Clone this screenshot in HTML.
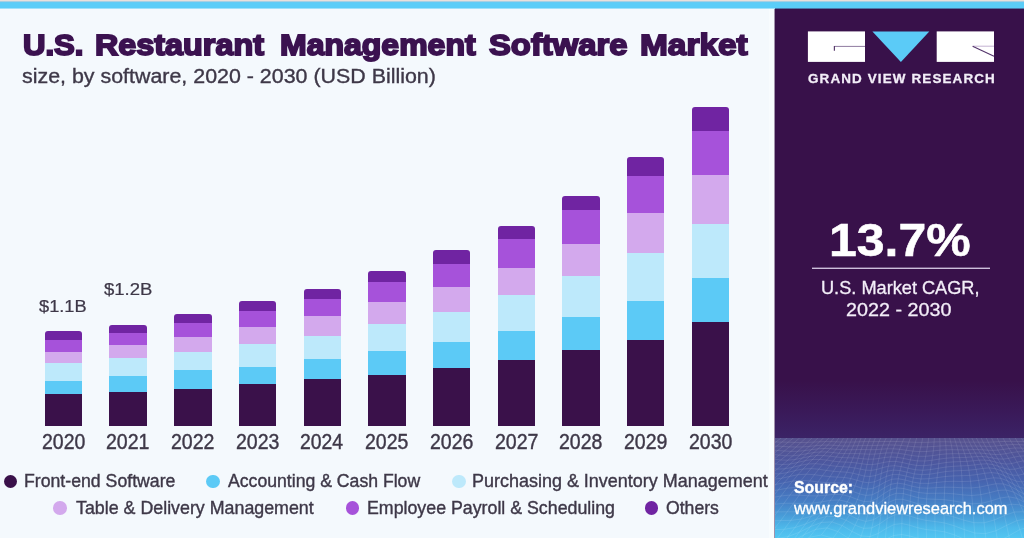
<!DOCTYPE html>
<html lang="en">
<head>
<meta charset="utf-8">
<title>U.S. Restaurant Management Software Market</title>
<style>
html,body{margin:0;padding:0}
body{width:1024px;height:538px;overflow:hidden;background:#f4f9fd;font-family:"Liberation Sans",sans-serif}
#page{position:relative;width:1024px;height:538px;overflow:hidden;background:#f4f9fd}
#topbar{position:absolute;left:0;top:0;width:1024px;height:9px;background:linear-gradient(180deg,#e8e0dc 0,#e8e0dc 1px,#a6cfe3 1px,#a6cfe3 2px,#62cbf4 2px,#62cbf4 3px,#5bcdf8 3px,#5bcdf8 8px,rgba(91,205,248,.55) 8px,rgba(91,205,248,.55) 9px);z-index:5}
#gap{position:absolute;left:768.5px;top:8px;width:7px;height:530px;background:#f8fcfe}
#panel{position:absolute;left:774.7px;top:8px;width:249.3px;height:530px;background:linear-gradient(180deg,#38114a 0,#38114a 372.5px,#3a1a5a 405.5px,#3b2366 430.3px,#57528e 430.4px,#4d569d 452.5px,#4763ae 472.5px,#467dc4 492.5px,#489cd8 507.5px,#4db8ea 519.5px,#52c6f2 530px)}
.t{position:absolute;white-space:nowrap;line-height:1;transform-origin:0 0;display:block}
.bar{position:absolute;width:37.4px;border-radius:3px 3px 0 0;overflow:hidden}
.bar i{position:absolute;left:0;width:100%;display:block}
.others{background:#7024a2}.emp{background:#a652da}.table{background:#d3a9ed}
.purch{background:#bde9fb}.acct{background:#5ccaf6}.front{background:#3a114a}
.dot{position:absolute;width:13.7px;height:13.7px;border-radius:50%;display:block}
#pedge{position:absolute;left:774px;top:9px;width:1px;height:529px;background:rgba(56,17,74,.45)}
#rule{position:absolute;left:812px;top:267px;width:178px;height:2px;background:linear-gradient(180deg,rgba(205,191,220,.4) 0,rgba(205,191,220,.4) 1px,#cdbfdc 1px,#cdbfdc 2px)}
#logo{position:absolute;left:800px;top:25px;width:200px;height:45px}
#mesh{position:absolute;left:774.7px;top:438.3px;width:249.3px;height:99.7px}
#tw1{left:22.74px;top:28.00px;font-size:30.09px;transform:scaleX(1.0338);color:#3b1250;font-weight:700;line-height:33px;-webkit-text-stroke:1.935px #3b1250;}
#tw2{left:94.98px;top:28.00px;font-size:30.09px;transform:scaleX(1.0751);color:#3b1250;font-weight:700;line-height:33px;-webkit-text-stroke:1.860px #3b1250;}
#tw3{left:279.50px;top:28.00px;font-size:30.09px;transform:scaleX(1.0638);color:#3b1250;font-weight:700;line-height:33px;-webkit-text-stroke:1.880px #3b1250;}
#tw4{left:489.29px;top:28.00px;font-size:30.09px;transform:scaleX(1.0901);color:#3b1250;font-weight:700;line-height:33px;-webkit-text-stroke:1.835px #3b1250;}
#tw5{left:639.91px;top:28.00px;font-size:30.09px;transform:scaleX(1.1109);color:#3b1250;font-weight:700;line-height:33px;-webkit-text-stroke:1.800px #3b1250;}
#sub{left:22.45px;top:65.00px;font-size:19.94px;transform:scaleX(1.0732);color:#3e3848;line-height:22px;-webkit-text-stroke:0.354px #3e3848;}
#v1{left:38.82px;top:296.00px;font-size:17.37px;transform:scaleX(1.0506);color:#3e3848;line-height:20px;-webkit-text-stroke:0.238px #3e3848;}
#v2{left:104.02px;top:279.00px;font-size:17.22px;transform:scaleX(1.0758);color:#3e3848;line-height:20px;-webkit-text-stroke:0.232px #3e3848;}
#lg1{left:24.16px;top:470.00px;font-size:18.63px;transform:scaleX(0.9505);color:#3e3848;line-height:21px;-webkit-text-stroke:0.400px #3e3848;}
#lg2{left:227.99px;top:470.00px;font-size:18.63px;transform:scaleX(0.9479);color:#3e3848;line-height:21px;-webkit-text-stroke:0.401px #3e3848;}
#lg3{left:472.24px;top:470.00px;font-size:18.63px;transform:scaleX(0.9655);color:#3e3848;line-height:21px;-webkit-text-stroke:0.394px #3e3848;}
#lg4{left:76.01px;top:497.00px;font-size:18.78px;transform:scaleX(0.9497);color:#3e3848;line-height:21px;-webkit-text-stroke:0.400px #3e3848;}
#lg5{left:366.77px;top:497.00px;font-size:18.78px;transform:scaleX(0.9470);color:#3e3848;line-height:21px;-webkit-text-stroke:0.401px #3e3848;}
#lg6{left:666.24px;top:497.00px;font-size:18.78px;transform:scaleX(0.9391);color:#3e3848;line-height:21px;-webkit-text-stroke:0.405px #3e3848;}
#gvr{left:807.70px;top:72.00px;font-size:11.92px;transform:scaleX(1.1285);color:#f3eef8;font-weight:700;letter-spacing:1.0px;line-height:14px;-webkit-text-stroke:0.266px #f3eef8;}
#cagr{left:828.78px;top:214.00px;font-size:46.08px;transform:scaleX(1.0848);color:#ffffff;font-weight:700;line-height:52px;-webkit-text-stroke:0.553px #ffffff;}
#c1{left:821.35px;top:278.00px;font-size:18.17px;transform:scaleX(1.0010);color:#f3eef8;line-height:20px;-webkit-text-stroke:0.300px #f3eef8;}
#c2{left:846.00px;top:299.00px;font-size:18.75px;transform:scaleX(1.0532);color:#f3eef8;line-height:21px;-webkit-text-stroke:0.285px #f3eef8;}
#src{left:793.82px;top:478.00px;font-size:16.72px;transform:scaleX(0.9506);color:#ffffff;font-weight:700;line-height:19px;-webkit-text-stroke:0.421px #ffffff;}
#url{left:794.26px;top:500.00px;font-size:15.62px;transform:scaleX(1.0514);color:#ffffff;line-height:17px;-webkit-text-stroke:0.285px #ffffff;}
#y2020{left:41.72px;top:430.00px;font-size:21.25px;transform:scaleX(0.9156);color:#3e3848;line-height:24px;-webkit-text-stroke:0.415px #3e3848;}
#y2021{left:106.41px;top:430.00px;font-size:21.25px;transform:scaleX(0.9197);color:#3e3848;line-height:24px;-webkit-text-stroke:0.413px #3e3848;}
#y2022{left:171.10px;top:430.00px;font-size:21.25px;transform:scaleX(0.9197);color:#3e3848;line-height:24px;-webkit-text-stroke:0.413px #3e3848;}
#y2023{left:235.79px;top:430.00px;font-size:21.25px;transform:scaleX(0.9177);color:#3e3848;line-height:24px;-webkit-text-stroke:0.414px #3e3848;}
#y2024{left:300.49px;top:430.00px;font-size:21.25px;transform:scaleX(0.9116);color:#3e3848;line-height:24px;-webkit-text-stroke:0.417px #3e3848;}
#y2025{left:365.17px;top:430.00px;font-size:21.25px;transform:scaleX(0.9156);color:#3e3848;line-height:24px;-webkit-text-stroke:0.415px #3e3848;}
#y2026{left:429.86px;top:430.00px;font-size:21.25px;transform:scaleX(0.9177);color:#3e3848;line-height:24px;-webkit-text-stroke:0.414px #3e3848;}
#y2027{left:494.55px;top:430.00px;font-size:21.25px;transform:scaleX(0.9197);color:#3e3848;line-height:24px;-webkit-text-stroke:0.413px #3e3848;}
#y2028{left:559.24px;top:430.00px;font-size:21.25px;transform:scaleX(0.9177);color:#3e3848;line-height:24px;-webkit-text-stroke:0.414px #3e3848;}
#y2029{left:623.93px;top:430.00px;font-size:21.25px;transform:scaleX(0.9177);color:#3e3848;line-height:24px;-webkit-text-stroke:0.414px #3e3848;}
#y2030{left:688.62px;top:430.00px;font-size:21.25px;transform:scaleX(0.9156);color:#3e3848;line-height:24px;-webkit-text-stroke:0.415px #3e3848;}
</style>
</head>
<body>
<div id="page">
<div id="topbar"></div>
<h1 style="margin:0;font-weight:inherit;font-size:inherit"><span class="t" id="tw1">U.S.</span> <span class="t" id="tw2">Restaurant</span> <span class="t" id="tw3">Management</span> <span class="t" id="tw4">Software</span> <span class="t" id="tw5">Market</span></h1>
<span class="t" id="sub">size, by software, 2020 - 2030 (USD Billion)</span>
<div id="chart">
<div class="bar" style="left:44.75px;top:331.3px;height:94.5px"><i class="others" style="top:0.0px;height:8.8px"></i><i class="emp" style="top:8.8px;height:11.7px"></i><i class="table" style="top:20.5px;height:10.8px"></i><i class="purch" style="top:31.3px;height:18.4px"></i><i class="acct" style="top:49.7px;height:12.6px"></i><i class="front" style="top:62.3px;height:32.2px"></i></div>
<div class="bar" style="left:109.44px;top:324.9px;height:100.9px"><i class="others" style="top:0.0px;height:8.4px"></i><i class="emp" style="top:8.4px;height:12.1px"></i><i class="table" style="top:20.5px;height:12.6px"></i><i class="purch" style="top:33.1px;height:18.3px"></i><i class="acct" style="top:51.4px;height:15.6px"></i><i class="front" style="top:67.0px;height:33.9px"></i></div>
<div class="bar" style="left:174.13px;top:313.9px;height:111.9px"><i class="others" style="top:0.0px;height:9.6px"></i><i class="emp" style="top:9.6px;height:13.7px"></i><i class="table" style="top:23.3px;height:14.6px"></i><i class="purch" style="top:37.9px;height:18.6px"></i><i class="acct" style="top:56.5px;height:18.6px"></i><i class="front" style="top:75.1px;height:36.8px"></i></div>
<div class="bar" style="left:238.82px;top:301.3px;height:124.5px"><i class="others" style="top:0.0px;height:10.2px"></i><i class="emp" style="top:10.2px;height:15.2px"></i><i class="table" style="top:25.4px;height:16.9px"></i><i class="purch" style="top:42.3px;height:23.2px"></i><i class="acct" style="top:65.5px;height:17.4px"></i><i class="front" style="top:82.9px;height:41.6px"></i></div>
<div class="bar" style="left:303.51px;top:288.8px;height:137.0px"><i class="others" style="top:0.0px;height:10.2px"></i><i class="emp" style="top:10.2px;height:16.8px"></i><i class="table" style="top:27.0px;height:19.8px"></i><i class="purch" style="top:46.8px;height:23.8px"></i><i class="acct" style="top:70.6px;height:20.0px"></i><i class="front" style="top:90.6px;height:46.4px"></i></div>
<div class="bar" style="left:368.20px;top:270.6px;height:155.2px"><i class="others" style="top:0.0px;height:11.5px"></i><i class="emp" style="top:11.5px;height:20.1px"></i><i class="table" style="top:31.6px;height:21.9px"></i><i class="purch" style="top:53.5px;height:27.3px"></i><i class="acct" style="top:80.8px;height:23.6px"></i><i class="front" style="top:104.4px;height:50.8px"></i></div>
<div class="bar" style="left:432.89px;top:250.3px;height:175.5px"><i class="others" style="top:0.0px;height:13.4px"></i><i class="emp" style="top:13.4px;height:23.3px"></i><i class="table" style="top:36.7px;height:24.7px"></i><i class="purch" style="top:61.4px;height:30.7px"></i><i class="acct" style="top:92.1px;height:25.7px"></i><i class="front" style="top:117.8px;height:57.7px"></i></div>
<div class="bar" style="left:497.58px;top:226.1px;height:199.7px"><i class="others" style="top:0.0px;height:13.0px"></i><i class="emp" style="top:13.0px;height:29.1px"></i><i class="table" style="top:42.1px;height:27.1px"></i><i class="purch" style="top:69.2px;height:35.3px"></i><i class="acct" style="top:104.5px;height:29.9px"></i><i class="front" style="top:134.4px;height:65.3px"></i></div>
<div class="bar" style="left:562.27px;top:195.8px;height:230.0px"><i class="others" style="top:0.0px;height:14.3px"></i><i class="emp" style="top:14.3px;height:33.7px"></i><i class="table" style="top:48.0px;height:32.2px"></i><i class="purch" style="top:80.2px;height:41.1px"></i><i class="acct" style="top:121.3px;height:33.3px"></i><i class="front" style="top:154.6px;height:75.4px"></i></div>
<div class="bar" style="left:626.96px;top:157.0px;height:268.8px"><i class="others" style="top:0.0px;height:19.0px"></i><i class="emp" style="top:19.0px;height:37.3px"></i><i class="table" style="top:56.3px;height:40.0px"></i><i class="purch" style="top:96.3px;height:47.7px"></i><i class="acct" style="top:144.0px;height:38.8px"></i><i class="front" style="top:182.8px;height:86.0px"></i></div>
<div class="bar" style="left:691.65px;top:107.4px;height:318.4px"><i class="others" style="top:0.0px;height:24.0px"></i><i class="emp" style="top:24.0px;height:44.0px"></i><i class="table" style="top:68.0px;height:48.4px"></i><i class="purch" style="top:116.4px;height:53.8px"></i><i class="acct" style="top:170.2px;height:44.8px"></i><i class="front" style="top:215.0px;height:103.4px"></i></div>
<span class="t" id="v1">$1.1B</span> <span class="t" id="v2">$1.2B</span>
<span class="t" id="y2020">2020</span> <span class="t" id="y2021">2021</span> <span class="t" id="y2022">2022</span> <span class="t" id="y2023">2023</span> <span class="t" id="y2024">2024</span> <span class="t" id="y2025">2025</span> <span class="t" id="y2026">2026</span> <span class="t" id="y2027">2027</span> <span class="t" id="y2028">2028</span> <span class="t" id="y2029">2029</span> <span class="t" id="y2030">2030</span>
</div>
<div id="legend"><b class="dot front" style="left:3.60px;top:474.75px"></b><b class="dot acct" style="left:205.95px;top:474.75px"></b><b class="dot purch" style="left:452.05px;top:474.75px"></b><b class="dot table" style="left:53.15px;top:501.05px"></b><b class="dot emp" style="left:345.65px;top:501.05px"></b><b class="dot others" style="left:644.55px;top:501.05px"></b>
<span class="t" id="lg1">Front-end Software</span> <span class="t" id="lg2">Accounting &amp; Cash Flow</span> <span class="t" id="lg3">Purchasing &amp; Inventory Management</span> <span class="t" id="lg4">Table &amp; Delivery Management</span> <span class="t" id="lg5">Employee Payroll &amp; Scheduling</span> <span class="t" id="lg6">Others</span>
</div>
<div id="gap"></div>
<div id="panel"></div><div id="pedge"></div>
<svg id="mesh" viewBox="774.7 438.3 249.3 99.7" preserveAspectRatio="none"><path d="M769.7 442.2L775.5 442.3L781.5 442.4L787.8 442.5L794.2 442.7L800.6 442.8L807.0 442.7L813.3 442.4L819.3 442.1L825.1 441.9L830.7 441.9L835.9 442.1L840.9 442.3L845.6 442.4L850.2 442.4L854.7 442.3L859.2 442.1L863.7 442.0L868.5 442.0L873.4 442.0L878.7 441.9L884.2 441.8L890.0 441.7L896.1 441.8L902.3 442.0L908.7 442.4L915.1 442.6L921.5 442.7L927.8 442.6L933.8 442.3L939.6 442.1L945.2 442.1L950.4 442.2L955.3 442.3L960.1 442.4L964.6 442.4L969.1 442.4L973.6 442.4L978.2 442.4L982.9 442.5L987.9 442.5L993.2 442.3L998.7 442.0L1004.5 441.7L1010.6 441.6L1016.9 441.7L1023.3 441.9L1029.7 442.2M770.2 446.3L776.3 446.4L782.6 446.7L789.1 447.1L795.7 447.3L802.3 447.2L808.9 446.7L815.3 446.0L821.5 445.5L827.4 445.4L833.1 445.6L838.4 446.0L843.5 446.3L848.3 446.3L853.0 446.2L857.6 446.0L862.3 445.9L867.0 445.9L872.0 445.9L877.1 445.7L882.6 445.5L888.4 445.3L894.5 445.4L900.8 445.8L907.3 446.4L913.9 447.0L920.5 447.3L927.1 447.1L933.5 446.7L939.7 446.3L945.6 446.0L951.2 446.1L956.5 446.2L961.6 446.4L966.4 446.4L971.1 446.3L975.7 446.3L980.4 446.4L985.1 446.5L990.1 446.6L995.3 446.3L1000.8 445.8L1006.6 445.2L1012.6 444.9L1019.0 445.0L1025.5 445.4M771.1 450.4L777.4 450.8L784.0 451.3L790.7 451.7L797.5 451.6L804.4 450.9L811.1 450.0L817.7 449.1L824.0 448.8L830.0 449.0L835.8 449.5L841.2 449.9L846.3 450.1L851.3 450.0L856.1 449.9L860.8 449.8L865.7 449.9L870.6 450.0L875.8 449.9L881.2 449.5L886.9 449.1L893.0 449.1L899.3 449.6L905.9 450.5L912.6 451.4L919.4 451.9L926.3 451.8L933.0 451.2L939.6 450.5L945.9 450.1L951.9 450.0L957.6 450.1L963.0 450.2L968.1 450.1L973.1 449.9L977.9 449.9L982.6 450.1L987.5 450.5L992.4 450.7L997.6 450.4L1003.0 449.7L1008.8 448.9L1014.8 448.3L1021.2 448.4L1027.8 449.0M772.2 454.7L778.8 455.4L785.6 456.1L792.6 456.1L799.7 455.3L806.7 454.0L813.6 452.8L820.3 452.2L826.7 452.3L832.9 452.9L838.7 453.6L844.2 453.9L849.4 453.9L854.5 453.9L859.4 454.0L864.3 454.3L869.3 454.5L874.5 454.4L879.9 453.9L885.6 453.3L891.6 453.1L897.9 453.5L904.5 454.6L911.3 455.8L918.3 456.6L925.4 456.6L932.4 455.9L939.3 454.9L946.0 454.2L952.4 454.0L958.5 454.0L964.3 453.9L969.8 453.7L975.0 453.4L980.1 453.4L985.0 453.8L989.9 454.4L994.9 454.8L1000.1 454.7L1005.5 454.0L1011.2 452.9L1017.2 452.1L1023.6 452.0L1030.2 452.7M767.0 458.4L773.6 459.4L780.4 460.3L787.5 460.5L794.8 459.8L802.1 458.3L809.3 456.8L816.3 455.8L823.2 455.9L829.7 456.5L835.9 457.3L841.8 457.9L847.4 458.1L852.7 458.2L857.9 458.5L863.0 459.1L868.0 459.5L873.2 459.4L878.6 458.8L884.3 457.8L890.3 457.3L896.6 457.6L903.2 458.7L910.1 460.2L917.2 461.2L924.5 461.3L931.7 460.6L938.9 459.4L946.0 458.5L952.8 458.0L959.3 457.9L965.5 457.7L971.4 457.3L977.0 456.9L982.3 456.9L987.4 457.4L992.5 458.3L997.6 459.2L1002.8 459.4L1008.2 458.7L1013.9 457.4L1019.9 456.4L1026.2 456.1M768.2 463.1L775.1 464.3L782.3 464.9L789.7 464.4L797.2 462.8L804.7 461.0L812.1 459.8L819.3 459.7L826.3 460.4L832.9 461.4L839.2 462.1L845.2 462.4L850.9 462.7L856.3 463.3L861.6 464.1L866.8 464.8L872.1 464.9L877.5 464.1L883.1 462.8L889.1 461.8L895.4 461.7L902.0 462.8L908.9 464.4L916.1 465.7L923.5 466.0L931.0 465.2L938.5 464.0L945.9 462.8L953.1 462.2L960.0 461.9L966.6 461.6L972.9 461.1L978.9 460.5L984.5 460.4L989.9 461.0L995.2 462.4L1000.4 463.7L1005.7 464.4L1011.2 463.9L1016.8 462.5L1022.8 461.2L1029.1 460.6M769.7 468.3L777.0 469.4L784.5 469.1L792.1 467.7L799.9 465.7L807.6 464.3L815.2 464.0L822.5 464.7L829.6 465.8L836.3 466.6L842.7 467.1L848.8 467.5L854.5 468.3L860.1 469.4L865.5 470.5L870.9 470.7L876.4 469.8L882.0 468.1L888.0 466.5L894.2 466.0L900.8 466.9L907.8 468.5L915.0 470.1L922.5 470.6L930.2 469.9L938.0 468.6L945.7 467.3L953.3 466.6L960.6 466.2L967.7 465.9L974.4 465.2L980.7 464.4L986.8 464.1L992.5 464.9L998.0 466.6L1003.5 468.5L1008.9 469.7L1014.4 469.5L1020.0 468.2L1026.0 466.5M771.4 473.9L779.0 474.2L786.8 472.9L794.8 470.9L802.8 469.3L810.7 468.9L818.5 469.5L826.0 470.7L833.2 471.6L840.0 472.1L846.5 472.5L852.6 473.5L858.5 475.0L864.1 476.4L869.7 476.8L875.3 475.8L881.0 473.7L887.0 471.5L893.2 470.4L899.8 470.9L906.7 472.5L914.0 474.2L921.6 475.0L929.4 474.5L937.4 473.2L945.4 471.9L953.4 471.2L961.1 470.9L968.6 470.5L975.8 469.7L982.6 468.7L989.0 468.2L995.1 469.0L1001.0 471.1L1006.6 473.6L1012.2 475.4L1017.8 475.6L1023.5 474.3L1029.5 472.5M773.4 479.5L781.3 478.6L789.4 476.7L797.7 475.0L806.0 474.5L814.1 475.0L822.0 476.1L829.7 477.0L837.0 477.4L843.9 477.8L850.4 478.8L856.7 480.6L862.6 482.3L868.4 483.1L874.2 482.1L880.0 479.6L886.0 476.7L892.2 474.9L898.8 474.9L905.8 476.4L913.1 478.3L920.7 479.3L928.7 479.0L936.8 477.9L945.1 476.8L953.4 476.2L961.5 476.0L969.4 475.7L977.0 474.8L984.3 473.6L991.2 472.9L997.7 473.6L1003.9 475.9L1009.9 479.0L1015.7 481.4L1021.5 482.2L1027.3 481.0M767.5 485.2L775.5 484.8L783.8 483.1L792.3 481.4L800.9 480.7L809.4 481.2L817.7 482.2L825.8 482.9L833.6 483.1L841.0 483.3L848.0 484.3L854.7 486.2L861.0 488.3L867.1 489.4L873.1 488.5L879.0 485.7L885.1 482.2L891.4 479.6L898.0 479.1L904.9 480.3L912.2 482.3L919.9 483.6L928.0 483.7L936.3 482.8L944.8 481.9L953.3 481.6L961.8 481.8L970.2 481.6L978.3 480.7L986.0 479.2L993.4 478.1L1000.4 478.6L1007.0 481.1L1013.3 484.6L1019.4 487.7L1025.4 489.0L1031.4 488.0M769.5 491.6L778.0 490.2L786.6 488.5L795.5 487.7L804.3 488.1L813.1 488.9L821.6 489.3L829.9 489.1L837.8 489.0L845.3 489.7L852.4 491.7L859.2 494.2L865.6 495.7L871.9 495.1L878.0 492.1L884.2 488.0L890.6 484.6L897.2 483.4L904.1 484.4L911.5 486.5L919.2 488.1L927.3 488.5L935.8 488.0L944.4 487.5L953.3 487.6L962.1 488.1L970.9 488.3L979.4 487.4L987.7 485.6L995.6 484.1L1003.0 484.2L1010.1 486.6L1016.9 490.5L1023.3 494.2L1029.5 496.0M771.8 497.9L780.7 496.3L789.7 495.4L798.9 495.5L808.0 496.1L817.1 496.2L825.8 495.5L834.2 494.7L842.3 495.0L849.9 497.0L857.1 499.8L864.0 501.9L870.6 501.6L877.0 498.6L883.4 494.1L889.9 490.1L896.5 488.2L903.5 488.9L910.8 490.9L918.6 492.8L926.8 493.7L935.3 493.6L944.2 493.5L953.2 494.1L962.4 495.2L971.5 495.8L980.5 495.0L989.3 493.0L997.7 490.8L1005.7 490.3L1013.3 492.4L1020.5 496.5L1027.3 500.7M774.4 504.6L783.7 503.6L793.1 503.6L802.6 503.9L812.1 503.5L821.3 502.2L830.3 500.6L838.9 500.3L847.0 502.1L854.8 505.2L862.1 507.9L869.1 508.2L875.9 505.5L882.5 500.7L889.1 496.0L895.9 493.6L903.0 493.9L910.3 495.9L918.1 498.1L926.3 499.3L934.9 499.6L943.9 500.0L953.2 501.2L962.7 502.9L972.2 504.1L981.6 503.6L990.9 501.2L999.8 498.4L1008.4 497.1L1016.5 498.6L1024.2 502.6L1031.5 507.2M767.8 513.3L777.2 512.2L787.0 512.1L796.8 512.1L806.7 511.2L816.4 509.1L825.9 506.7L835.1 505.6L843.8 507.0L852.1 510.4L860.0 513.8L867.5 514.9L874.6 512.6L881.6 507.8L888.4 502.7L895.4 499.7L902.5 499.6L909.9 501.7L917.7 504.1L926.0 505.6L934.7 506.3L943.8 507.1L953.3 508.9L963.0 511.4L972.8 513.2L982.7 513.0L992.5 510.3L1001.9 506.8L1011.1 504.5L1019.8 505.2L1028.1 508.9M770.5 521.2L780.4 520.9L790.6 520.7L800.8 519.4L811.1 516.5L821.1 513.0L830.9 511.0L840.2 511.9L849.1 515.4L857.6 519.6L865.6 521.7L873.2 520.1L880.5 515.5L887.7 510.3L894.9 506.8L902.1 506.4L909.7 508.4L917.5 510.9L925.8 512.7L934.6 513.7L943.8 514.8L953.4 517.2L963.4 520.4L973.6 523.0L983.8 523.1L994.0 520.3L1004.1 515.9L1013.8 512.4L1023.1 512.0M773.5 529.9L783.9 529.6L794.6 527.9L805.3 524.3L815.8 519.7L826.2 516.7L836.2 516.9L845.7 520.5L854.8 525.5L863.4 528.7L871.6 528.2L879.4 524.2L886.9 518.9L894.4 515.2L901.8 514.5L909.5 516.3L917.4 518.9L925.8 520.7L934.6 521.8L943.9 523.2L953.7 526.0L963.9 529.9L974.4 533.3L985.0 534.0L995.7 531.0L1006.3 525.7L1016.6 520.9L1026.6 519.2M776.8 538.8L787.8 536.9L798.9 532.6L810.1 527.0L821.0 522.8L831.6 522.2L841.9 525.9L851.6 531.7L860.9 536.2L869.7 536.9L878.0 533.7L886.0 528.7L893.8 524.8L901.6 523.9L909.4 525.5L917.5 528.1L926.0 529.9L934.9 530.8L944.3 532.2L954.2 535.2L964.5 539.8L975.3 544.0L986.3 545.3L997.4 542.3L1008.5 536.1L1019.5 529.9L1030.1 526.8M769.2 548.3L780.6 546.4L792.1 541.7L803.7 535.1L815.3 529.7L826.6 528.2L837.5 531.8L848.0 538.4L858.0 544.3L867.5 546.5L876.4 544.4L885.0 539.8L893.2 535.9L901.3 534.8L909.4 536.3L917.7 538.6L926.3 540.1L935.3 540.7L944.8 541.8L954.8 544.8L965.4 549.9L976.4 554.9L987.7 556.9L999.3 554.0L1010.9 547.2L1022.4 539.6M772.8 556.6L784.7 551.7L796.9 544.3L809.0 537.7L821.0 535.3L832.7 538.5L843.9 545.8L854.7 553.2L864.9 557.1L874.5 556.2L883.7 552.3L892.5 548.6L901.1 547.3L909.5 548.6L918.1 550.6L926.8 551.6L936.0 551.5L945.6 551.9L955.8 554.7L966.5 560.0L977.7 565.9L989.3 568.7L1001.3 566.2L1013.5 558.9L1025.6 549.9M775.6 437.9L769.7 442.2M781.4 437.9L775.5 442.3L770.2 446.3M787.4 437.9L781.5 442.4L776.3 446.4L771.1 450.4M793.5 437.9L787.8 442.5L782.6 446.7L777.4 450.8L772.2 454.7L767.0 458.4M799.7 437.9L794.2 442.7L789.1 447.1L784.0 451.3L778.8 455.4L773.6 459.4L768.2 463.1M805.9 437.9L800.6 442.8L795.7 447.3L790.7 451.7L785.6 456.1L780.4 460.3L775.1 464.3L769.7 468.3M812.0 437.9L807.0 442.7L802.3 447.2L797.5 451.6L792.6 456.1L787.5 460.5L782.3 464.9L777.0 469.4L771.4 473.9M817.9 437.9L813.3 442.4L808.9 446.7L804.4 450.9L799.7 455.3L794.8 459.8L789.7 464.4L784.5 469.1L779.0 474.2L773.4 479.5L767.5 485.2M823.5 437.9L819.3 442.1L815.3 446.0L811.1 450.0L806.7 454.0L802.1 458.3L797.2 462.8L792.1 467.7L786.8 472.9L781.3 478.6L775.5 484.8L769.5 491.6M828.9 437.9L825.1 441.9L821.5 445.5L817.7 449.1L813.6 452.8L809.3 456.8L804.7 461.0L799.9 465.7L794.8 470.9L789.4 476.7L783.8 483.1L778.0 490.2L771.8 497.9M834.0 437.9L830.7 441.9L827.4 445.4L824.0 448.8L820.3 452.2L816.3 455.8L812.1 459.8L807.6 464.3L802.8 469.3L797.7 475.0L792.3 481.4L786.6 488.5L780.7 496.3L774.4 504.6L767.8 513.3M838.8 437.9L835.9 442.1L833.1 445.6L830.0 449.0L826.7 452.3L823.2 455.9L819.3 459.7L815.2 464.0L810.7 468.9L806.0 474.5L800.9 480.7L795.5 487.7L789.7 495.4L783.7 503.6L777.2 512.2L770.5 521.2M843.4 437.9L840.9 442.3L838.4 446.0L835.8 449.5L832.9 452.9L829.7 456.5L826.3 460.4L822.5 464.7L818.5 469.5L814.1 475.0L809.4 481.2L804.3 488.1L798.9 495.5L793.1 503.6L787.0 512.1L780.4 520.9L773.5 529.9M847.8 437.9L845.6 442.4L843.5 446.3L841.2 449.9L838.7 453.6L835.9 457.3L832.9 461.4L829.6 465.8L826.0 470.7L822.0 476.1L817.7 482.2L813.1 488.9L808.0 496.1L802.6 503.9L796.8 512.1L790.6 520.7L783.9 529.6L776.8 538.8L769.2 548.3M852.2 437.9L850.2 442.4L848.3 446.3L846.3 450.1L844.2 453.9L841.8 457.9L839.2 462.1L836.3 466.6L833.2 471.6L829.7 477.0L825.8 482.9L821.6 489.3L817.1 496.2L812.1 503.5L806.7 511.2L800.8 519.4L794.6 527.9L787.8 536.9L780.6 546.4L772.8 556.6M856.5 437.9L854.7 442.3L853.0 446.2L851.3 450.0L849.4 453.9L847.4 458.1L845.2 462.4L842.7 467.1L840.0 472.1L837.0 477.4L833.6 483.1L829.9 489.1L825.8 495.5L821.3 502.2L816.4 509.1L811.1 516.5L805.3 524.3L798.9 532.6L792.1 541.7L784.7 551.7M860.9 437.9L859.2 442.1L857.6 446.0L856.1 449.9L854.5 453.9L852.7 458.2L850.9 462.7L848.8 467.5L846.5 472.5L843.9 477.8L841.0 483.3L837.8 489.0L834.2 494.7L830.3 500.6L825.9 506.7L821.1 513.0L815.8 519.7L810.1 527.0L803.7 535.1L796.9 544.3M865.5 437.9L863.7 442.0L862.3 445.9L860.8 449.8L859.4 454.0L857.9 458.5L856.3 463.3L854.5 468.3L852.6 473.5L850.4 478.8L848.0 484.3L845.3 489.7L842.3 495.0L838.9 500.3L835.1 505.6L830.9 511.0L826.2 516.7L821.0 522.8L815.3 529.7L809.0 537.7M870.2 437.9L868.5 442.0L867.0 445.9L865.7 449.9L864.3 454.3L863.0 459.1L861.6 464.1L860.1 469.4L858.5 475.0L856.7 480.6L854.7 486.2L852.4 491.7L849.9 497.0L847.0 502.1L843.8 507.0L840.2 511.9L836.2 516.9L831.6 522.2L826.6 528.2L821.0 535.3M875.2 437.9L873.4 442.0L872.0 445.9L870.6 450.0L869.3 454.5L868.0 459.5L866.8 464.8L865.5 470.5L864.1 476.4L862.6 482.3L861.0 488.3L859.2 494.2L857.1 499.8L854.8 505.2L852.1 510.4L849.1 515.4L845.7 520.5L841.9 525.9L837.5 531.8L832.7 538.5M880.5 437.9L878.7 441.9L877.1 445.7L875.8 449.9L874.5 454.4L873.2 459.4L872.1 464.9L870.9 470.7L869.7 476.8L868.4 483.1L867.1 489.4L865.6 495.7L864.0 501.9L862.1 507.9L860.0 513.8L857.6 519.6L854.8 525.5L851.6 531.7L848.0 538.4L843.9 545.8M886.1 437.9L884.2 441.8L882.6 445.5L881.2 449.5L879.9 453.9L878.6 458.8L877.5 464.1L876.4 469.8L875.3 475.8L874.2 482.1L873.1 488.5L871.9 495.1L870.6 501.6L869.1 508.2L867.5 514.9L865.6 521.7L863.4 528.7L860.9 536.2L858.0 544.3L854.7 553.2M891.9 437.9L890.0 441.7L888.4 445.3L886.9 449.1L885.6 453.3L884.3 457.8L883.1 462.8L882.0 468.1L881.0 473.7L880.0 479.6L879.0 485.7L878.0 492.1L877.0 498.6L875.9 505.5L874.6 512.6L873.2 520.1L871.6 528.2L869.7 536.9L867.5 546.5L864.9 557.1M898.0 437.9L896.1 441.8L894.5 445.4L893.0 449.1L891.6 453.1L890.3 457.3L889.1 461.8L888.0 466.5L887.0 471.5L886.0 476.7L885.1 482.2L884.2 488.0L883.4 494.1L882.5 500.7L881.6 507.8L880.5 515.5L879.4 524.2L878.0 533.7L876.4 544.4L874.5 556.2M904.1 437.9L902.3 442.0L900.8 445.8L899.3 449.6L897.9 453.5L896.6 457.6L895.4 461.7L894.2 466.0L893.2 470.4L892.2 474.9L891.4 479.6L890.6 484.6L889.9 490.1L889.1 496.0L888.4 502.7L887.7 510.3L886.9 518.9L886.0 528.7L885.0 539.8L883.7 552.3M910.3 437.9L908.7 442.4L907.3 446.4L905.9 450.5L904.5 454.6L903.2 458.7L902.0 462.8L900.8 466.9L899.8 470.9L898.8 474.9L898.0 479.1L897.2 483.4L896.5 488.2L895.9 493.6L895.4 499.7L894.9 506.8L894.4 515.2L893.8 524.8L893.2 535.9L892.5 548.6M916.5 437.9L915.1 442.6L913.9 447.0L912.6 451.4L911.3 455.8L910.1 460.2L908.9 464.4L907.8 468.5L906.7 472.5L905.8 476.4L904.9 480.3L904.1 484.4L903.5 488.9L903.0 493.9L902.5 499.6L902.1 506.4L901.8 514.5L901.6 523.9L901.3 534.8L901.1 547.3M922.5 437.9L921.5 442.7L920.5 447.3L919.4 451.9L918.3 456.6L917.2 461.2L916.1 465.7L915.0 470.1L914.0 474.2L913.1 478.3L912.2 482.3L911.5 486.5L910.8 490.9L910.3 495.9L909.9 501.7L909.7 508.4L909.5 516.3L909.4 525.5L909.4 536.3L909.5 548.6M928.4 437.9L927.8 442.6L927.1 447.1L926.3 451.8L925.4 456.6L924.5 461.3L923.5 466.0L922.5 470.6L921.6 475.0L920.7 479.3L919.9 483.6L919.2 488.1L918.6 492.8L918.1 498.1L917.7 504.1L917.5 510.9L917.4 518.9L917.5 528.1L917.7 538.6L918.1 550.6M934.1 437.9L933.8 442.3L933.5 446.7L933.0 451.2L932.4 455.9L931.7 460.6L931.0 465.2L930.2 469.9L929.4 474.5L928.7 479.0L928.0 483.7L927.3 488.5L926.8 493.7L926.3 499.3L926.0 505.6L925.8 512.7L925.8 520.7L926.0 529.9L926.3 540.1L926.8 551.6M939.4 437.9L939.6 442.1L939.7 446.3L939.6 450.5L939.3 454.9L938.9 459.4L938.5 464.0L938.0 468.6L937.4 473.2L936.8 477.9L936.3 482.8L935.8 488.0L935.3 493.6L934.9 499.6L934.7 506.3L934.6 513.7L934.6 521.8L934.9 530.8L935.3 540.7L936.0 551.5M944.5 437.9L945.2 442.1L945.6 446.0L945.9 450.1L946.0 454.2L946.0 458.5L945.9 462.8L945.7 467.3L945.4 471.9L945.1 476.8L944.8 481.9L944.4 487.5L944.2 493.5L943.9 500.0L943.8 507.1L943.8 514.8L943.9 523.2L944.3 532.2L944.8 541.8L945.6 551.9M949.3 437.9L950.4 442.2L951.2 446.1L951.9 450.0L952.4 454.0L952.8 458.0L953.1 462.2L953.3 466.6L953.4 471.2L953.4 476.2L953.3 481.6L953.3 487.6L953.2 494.1L953.2 501.2L953.3 508.9L953.4 517.2L953.7 526.0L954.2 535.2L954.8 544.8L955.8 554.7M953.9 437.9L955.3 442.3L956.5 446.2L957.6 450.1L958.5 454.0L959.3 457.9L960.0 461.9L960.6 466.2L961.1 470.9L961.5 476.0L961.8 481.8L962.1 488.1L962.4 495.2L962.7 502.9L963.0 511.4L963.4 520.4L963.9 529.9L964.5 539.8L965.4 549.9L966.5 560.0M958.3 437.9L960.1 442.4L961.6 446.4L963.0 450.2L964.3 453.9L965.5 457.7L966.6 461.6L967.7 465.9L968.6 470.5L969.4 475.7L970.2 481.6L970.9 488.3L971.5 495.8L972.2 504.1L972.8 513.2L973.6 523.0L974.4 533.3L975.3 544.0L976.4 554.9L977.7 565.9M962.7 437.9L964.6 442.4L966.4 446.4L968.1 450.1L969.8 453.7L971.4 457.3L972.9 461.1L974.4 465.2L975.8 469.7L977.0 474.8L978.3 480.7L979.4 487.4L980.5 495.0L981.6 503.6L982.7 513.0L983.8 523.1L985.0 534.0L986.3 545.3L987.7 556.9L989.3 568.7M967.0 437.9L969.1 442.4L971.1 446.3L973.1 449.9L975.0 453.4L977.0 456.9L978.9 460.5L980.7 464.4L982.6 468.7L984.3 473.6L986.0 479.2L987.7 485.6L989.3 493.0L990.9 501.2L992.5 510.3L994.0 520.3L995.7 531.0L997.4 542.3L999.3 554.0L1001.3 566.2M971.4 437.9L973.6 442.4L975.7 446.3L977.9 449.9L980.1 453.4L982.3 456.9L984.5 460.4L986.8 464.1L989.0 468.2L991.2 472.9L993.4 478.1L995.6 484.1L997.7 490.8L999.8 498.4L1001.9 506.8L1004.1 515.9L1006.3 525.7L1008.5 536.1L1010.9 547.2L1013.5 558.9M975.9 437.9L978.2 442.4L980.4 446.4L982.6 450.1L985.0 453.8L987.4 457.4L989.9 461.0L992.5 464.9L995.1 469.0L997.7 473.6L1000.4 478.6L1003.0 484.2L1005.7 490.3L1008.4 497.1L1011.1 504.5L1013.8 512.4L1016.6 520.9L1019.5 529.9L1022.4 539.6L1025.6 549.9M980.7 437.9L982.9 442.5L985.1 446.5L987.5 450.5L989.9 454.4L992.5 458.3L995.2 462.4L998.0 466.6L1001.0 471.1L1003.9 475.9L1007.0 481.1L1010.1 486.6L1013.3 492.4L1016.5 498.6L1019.8 505.2L1023.1 512.0L1026.6 519.2L1030.1 526.8M985.8 437.9L987.9 442.5L990.1 446.6L992.4 450.7L994.9 454.8L997.6 459.2L1000.4 463.7L1003.5 468.5L1006.6 473.6L1009.9 479.0L1013.3 484.6L1016.9 490.5L1020.5 496.5L1024.2 502.6L1028.1 508.9M991.1 437.9L993.2 442.3L995.3 446.3L997.6 450.4L1000.1 454.7L1002.8 459.4L1005.7 464.4L1008.9 469.7L1012.2 475.4L1015.7 481.4L1019.4 487.7L1023.3 494.2L1027.3 500.7L1031.5 507.2M996.7 437.9L998.7 442.0L1000.8 445.8L1003.0 449.7L1005.5 454.0L1008.2 458.7L1011.2 463.9L1014.4 469.5L1017.8 475.6L1021.5 482.2L1025.4 489.0L1029.5 496.0M1002.5 437.9L1004.5 441.7L1006.6 445.2L1008.8 448.9L1011.2 452.9L1013.9 457.4L1016.8 462.5L1020.0 468.2L1023.5 474.3L1027.3 481.0L1031.4 488.0M1008.5 437.9L1010.6 441.6L1012.6 444.9L1014.8 448.3L1017.2 452.1L1019.9 456.4L1022.8 461.2L1026.0 466.5L1029.5 472.5M1014.7 437.9L1016.9 441.7L1019.0 445.0L1021.2 448.4L1023.6 452.0L1026.2 456.1L1029.1 460.6M1020.9 437.9L1023.3 441.9L1025.5 445.4L1027.8 449.0L1030.2 452.7M1027.1 437.9L1029.7 442.2" fill="none" stroke="#ffffff" stroke-opacity="0.14" stroke-width="0.7"/></svg>
<svg id="logo" viewBox="800 25 200 45">
<rect x="807.9" y="31.4" width="57.1" height="30.5" fill="#fff"/>
<path d="M872.4 31.4H929.3L900.9 62Z" fill="#5bcbf7"/>
<rect x="936.7" y="31.4" width="57.3" height="30.5" fill="#fff"/>
<path d="M834.3 46.4H865" stroke="#8f7a9f" stroke-width="1" fill="none"/>
<path d="M834.4 46V50.8" stroke="#5a3d6e" stroke-width="1.2" fill="none"/>
<path d="M973 46.2H994" stroke="#c4b3d2" stroke-width="1" fill="none"/>
<path d="M972.6 46.3L994 56.2" stroke="#52336a" stroke-width="1.1" fill="none"/>
</svg>
<span class="t" id="gvr">GRAND VIEW RESEARCH</span>
<span class="t" id="cagr">13.7%</span>
<div id="rule"></div>
<span class="t" id="c1">U.S. Market CAGR,</span> <span class="t" id="c2">2022 - 2030</span>
<span class="t" id="src">Source:</span> <span class="t" id="url">www.grandviewresearch.com</span>
</div>
</body>
</html>
